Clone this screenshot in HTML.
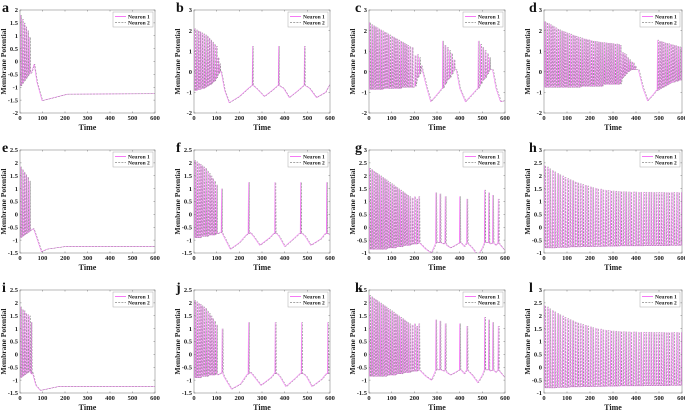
<!DOCTYPE html>
<html><head><meta charset="utf-8"><style>
html,body{margin:0;padding:0;background:#fff;}
svg{display:block;font-family:"Liberation Serif",serif;}
</style></head><body>
<svg id="fig" width="685" height="411" viewBox="0 0 685 411" xmlns="http://www.w3.org/2000/svg"></svg>
<script>
// ---- data ----
const xTicks = [0,100,200,300,400,500,600];
const panelLetters = ['a','b','c','d','e','f','g','h','i','j','k','l'];
const yRanges = [[-2,2,0.5],[-2,3,1],[-2,3,1],[-2,3,1],[-1.5,2.5,0.5],[-1.5,2.5,0.5],[-1,3,0.5],[-1,3,0.5],[-1.5,2.5,0.5],[-1.5,2.5,0.5],[-1.5,2.5,0.5],[-1,3,0.5]];

const aSpikeT=[3,11,19,27,35,43], aSpikeP=[1.8,1.65,1.5,1.35,1.2,0.95], aSpikeL=[-0.95,-0.85,-0.75,-0.65,-0.55,-0.45];
const aSlowT=[50,63,75,98,130,210,600], aSlowV=[-0.45,-0.1,-0.8,-1.52,-1.45,-1.27,-1.25];

const bSpikeT=[3,11,19,27,35,43,51,59,67,75,83,91,99,107,114,258,373,487];
const bSpikeP=[2.1,2.05,2.0,1.95,1.9,1.85,1.8,1.75,1.65,1.55,1.45,1.35,1.25,0.7,0.4,1.25,1.25,1.25];
const bSpikeL=[-0.9,-0.9,-0.85,-0.85,-0.8,-0.8,-0.75,-0.7,-0.65,-0.6,-0.5,-0.45,-0.3,-0.1,0.0,-0.65,-0.65,-0.65];
const bSlowT=[120,135,155,200,240,265,280,310,345,380,395,420,460,495,510,540,580,600];
const bSlowV=[0.0,-0.9,-1.5,-1.2,-0.8,-0.7,-0.85,-1.2,-0.9,-0.7,-0.8,-1.25,-0.9,-0.7,-0.8,-1.25,-1.0,-0.6];

const cSpikeT=[3,11,19,27,35,43,51,59,67,75,83,91,99,107,115,123,131,139,147,155,163,171,180,190,203,213,223,325,335,345,355,365,375,482,492,502,512,522,532];
const cSpikeP=[2.4,2.3,2.25,2.2,2.15,2.1,2.05,2.0,1.95,1.9,1.85,1.8,1.75,1.7,1.65,1.6,1.55,1.5,1.45,1.4,1.35,1.3,1.25,1.2,0.8,0.85,0.7,1.5,1.3,1.2,1.05,0.9,0.6,1.5,1.35,1.2,1.05,0.9,0.7];
const cSpikeL=[-0.85,-0.85,-0.85,-0.85,-0.85,-0.85,-0.85,-0.85,-0.8,-0.8,-0.8,-0.8,-0.8,-0.8,-0.8,-0.8,-0.8,-0.8,-0.75,-0.75,-0.75,-0.75,-0.75,-0.75,-0.7,-0.3,-0.1,-0.8,-0.6,-0.4,-0.3,-0.1,0.1,-0.8,-0.6,-0.4,-0.3,-0.1,0.1];
const cSlowT=[196,230,255,272,300,318,385,400,425,455,475,545,560,580,600];
const cSlowV=[-0.75,0.3,-0.8,-1.45,-1.1,-0.85,0.1,-0.8,-1.45,-1.1,-0.85,0.1,-0.8,-1.45,-1.4];

const dSpikeT=[3,11,19,27,35,43,51,59,67,75,83,91,99,107,115,123,131,139,147,155,163,171,179,187,195,203,211,219,227,235,243,251,259,267,275,283,291,299,307,315,323,331,340,348,356,364,372,380,388,396,493,501,509,517,525,533,541,549,557,565,573,581,589,597];
const dSpikeP=[2.45,2.4,2.35,2.3,2.25,2.2,2.15,2.1,2.05,2.0,1.97,1.94,1.9,1.87,1.84,1.8,1.77,1.74,1.7,1.68,1.65,1.62,1.6,1.58,1.56,1.54,1.52,1.5,1.48,1.46,1.45,1.44,1.43,1.42,1.41,1.4,1.39,1.38,1.37,1.36,1.35,1.3,0.95,0.9,0.85,0.7,0.6,0.5,0.45,0.3,1.55,1.5,1.48,1.45,1.42,1.4,1.38,1.35,1.32,1.3,1.28,1.25,1.22,1.2];
const dSpikeL=[-0.75,-0.75,-0.75,-0.75,-0.75,-0.75,-0.75,-0.75,-0.75,-0.75,-0.75,-0.75,-0.75,-0.75,-0.75,-0.75,-0.75,-0.75,-0.75,-0.75,-0.7,-0.7,-0.7,-0.7,-0.7,-0.7,-0.7,-0.7,-0.7,-0.7,-0.7,-0.7,-0.6,-0.6,-0.6,-0.6,-0.6,-0.6,-0.6,-0.6,-0.6,-0.6,-0.3,-0.2,-0.1,0.0,0.05,0.1,0.1,0.1,-0.9,-0.85,-0.8,-0.75,-0.7,-0.65,-0.6,-0.55,-0.5,-0.5,-0.45,-0.45,-0.4,-0.4];
const dSlowT=[410,430,450,475,488], dSlowV=[0.1,-0.8,-1.4,-1.1,-0.9];

const eSpikeT=[3,11,19,27,35,43], eSpikeP=[1.85,1.75,1.65,1.55,1.45,1.3], eSpikeL=[-0.9,-0.85,-0.8,-0.75,-0.7,-0.65];
const eSlowT=[50,60,70,95,120,200,600], eSlowV=[-0.6,-0.55,-0.8,-1.45,-1.35,-1.25,-1.25];

const fSpikeT=[3,11,19,27,35,43,51,59,67,75,83,91,99,121,240,357,470,585];
const fSpikeP=[2.1,2.05,2.0,1.95,1.9,1.85,1.8,1.7,1.6,1.5,1.4,1.3,1.15,1.0,1.25,1.25,1.25,1.25];
const fSpikeL=[-0.9,-0.9,-0.9,-0.9,-0.85,-0.85,-0.85,-0.85,-0.8,-0.8,-0.8,-0.8,-0.75,-0.7,-0.75,-0.75,-0.75,-0.75];
const fSlowT=[105,115,128,160,200,230,248,262,290,335,350,365,375,400,445,463,478,490,515,560,578,592,600];
const fSlowV=[-0.75,-0.7,-0.8,-1.35,-1.1,-0.8,-0.7,-0.85,-1.2,-0.9,-0.75,-0.75,-0.85,-1.25,-0.9,-0.75,-0.75,-0.85,-1.2,-0.95,-0.75,-0.75,-0.8];

const gSpikeT=[3,11,19,27,35,43,51,59,67,75,83,91,99,107,115,123,131,139,147,155,163,171,180,190,200,210,220,295,313,336,400,432,510,528,546,570];
const gSpikeP=[2.3,2.25,2.2,2.15,2.1,2.05,2.0,1.95,1.9,1.85,1.8,1.75,1.7,1.65,1.6,1.55,1.5,1.45,1.4,1.35,1.3,1.25,1.2,1.15,1.2,1.1,1.2,1.35,1.3,1.2,1.2,1.1,1.45,1.35,1.25,1.1];
const gSpikeL=[-0.85,-0.85,-0.85,-0.85,-0.85,-0.85,-0.85,-0.85,-0.85,-0.85,-0.8,-0.8,-0.8,-0.8,-0.8,-0.75,-0.75,-0.75,-0.75,-0.7,-0.7,-0.7,-0.7,-0.65,-0.65,-0.65,-0.6,-0.6,-0.6,-0.6,-0.6,-0.6,-0.6,-0.6,-0.6,-0.6];
const gSlowT=[228,250,275,290,300,318,330,342,360,390,405,420,438,455,480,500,535,560,575,600];
const gSlowV=[-0.65,-0.85,-1.0,-0.7,-0.6,-0.6,-0.65,-0.7,-0.8,-0.65,-0.6,-0.75,-0.65,-0.8,-1.1,-0.8,-0.65,-0.7,-0.65,-0.9];

const hSpikeT=[3,14,25,36,47,58,69,80,91,102,113,124,135,146,157,168,179,190,201,212,223,234,245,256,267,278,289,300,311,322,333,344,355,366,377,388,399,410,421,432,443,454,465,476,487,498,509,520,531,542,553,564,575,586,597];
const hSpikeP=[2.4,2.35,2.28,2.22,2.16,2.1,2.05,2.0,1.95,1.9,1.86,1.82,1.78,1.74,1.7,1.67,1.64,1.61,1.58,1.55,1.53,1.51,1.49,1.47,1.45,1.44,1.43,1.42,1.41,1.4,1.4,1.39,1.39,1.38,1.38,1.38,1.38,1.37,1.37,1.37,1.37,1.37,1.37,1.36,1.36,1.36,1.36,1.36,1.36,1.36,1.36,1.36,1.36,1.36,1.36];
const hSpikeL=[-0.8,-0.8,-0.8,-0.8,-0.8,-0.78,-0.78,-0.78,-0.78,-0.78,-0.76,-0.76,-0.76,-0.76,-0.76,-0.75,-0.75,-0.75,-0.75,-0.75,-0.74,-0.74,-0.74,-0.74,-0.74,-0.73,-0.73,-0.73,-0.73,-0.73,-0.72,-0.72,-0.72,-0.72,-0.72,-0.72,-0.72,-0.72,-0.72,-0.72,-0.71,-0.71,-0.71,-0.71,-0.71,-0.71,-0.71,-0.71,-0.71,-0.71,-0.7,-0.7,-0.7,-0.7,-0.7];
const hSlowT=[], hSlowV=[];

const iSpikeT=[3,11,19,27,35,43,50], iSpikeP=[1.85,1.75,1.7,1.6,1.55,1.5,1.25], iSpikeL=[-0.9,-0.85,-0.8,-0.75,-0.7,-0.65,-0.75];
const iSlowT=[55,70,90,170,600], iSlowV=[-0.7,-1.2,-1.4,-1.25,-1.25];

const jSpikeT=[3,11,19,27,35,43,51,59,67,75,83,91,99,124,240,358,474,590];
const jSpikeP=[2.1,2.05,2.0,1.95,1.9,1.85,1.8,1.7,1.6,1.5,1.4,1.3,1.15,1.0,1.25,1.25,1.25,1.25];
const jSpikeL=fSpikeL;
const jSlowT=[105,115,131,165,205,232,250,264,295,340,353,367,378,405,450,467,482,495,520,565,583,597];
const jSlowV=[-0.8,-0.75,-0.85,-1.35,-1.15,-0.8,-0.7,-0.85,-1.2,-0.9,-0.75,-0.75,-0.85,-1.25,-0.9,-0.75,-0.75,-0.85,-1.25,-0.95,-0.75,-0.75];

// neuron 2 time lag
const lagN2 = [3,3,4,4,3,4,4,4,3,4,4,4];

const panels = [
 [aSpikeT,aSpikeP,aSpikeL,aSlowT,aSlowV],[bSpikeT,bSpikeP,bSpikeL,bSlowT,bSlowV],
 [cSpikeT,cSpikeP,cSpikeL,cSlowT,cSlowV],[dSpikeT,dSpikeP,dSpikeL,dSlowT,dSlowV],
 [eSpikeT,eSpikeP,eSpikeL,eSlowT,eSlowV],[fSpikeT,fSpikeP,fSpikeL,fSlowT,fSlowV],
 [gSpikeT,gSpikeP,gSpikeL,gSlowT,gSlowV],[hSpikeT,hSpikeP,hSpikeL,hSlowT,hSlowV],
 [iSpikeT,iSpikeP,iSpikeL,iSlowT,iSlowV],[jSpikeT,jSpikeP,jSpikeL,jSlowT,jSlowV],
 [gSpikeT,gSpikeP,gSpikeL,gSlowT,gSlowV],[hSpikeT,hSpikeP,hSpikeL,hSlowT,hSlowV]
];

// ---- layout ----
const cols=[[20,155],[194,330],[369,505],[544,682]];
const rows=[[10,113],[150,253],[290,393]];
const letterX=[2,176,355,529];
const NS='http://www.w3.org/2000/svg';
const svg=document.getElementById('fig');
function mk(tag,attrs,parent){const e=document.createElementNS(NS,tag);for(const k in attrs)e.setAttribute(k,attrs[k]);(parent||svg).appendChild(e);return e;}

function buildSeries(p,lag){
  const pts=[];
  const [sT,sP,sL,wT,wV]=p;
  for(let i=0;i<sT.length;i++){
    pts.push([sT[i]+lag-1.5,sL[i]]);pts.push([sT[i]+lag,sP[i]]);pts.push([sT[i]+lag+1.5,sL[i]]);
  }
  for(let i=0;i<wT.length;i++)pts.push([wT[i]+(wT[i]<600?lag:0),wV[i]]);
  pts.sort((a,b)=>a[0]-b[0]);
  return pts;
}

panels.forEach((p,idx)=>{
  const c=idx%4, r=Math.floor(idx/4);
  const [x0,x1]=cols[c],[y0,y1]=rows[r];
  const [ymin,ymax,ystep]=yRanges[idx];
  const sx=t=>x0+(t/600)*(x1-x0);
  const sy=v=>y1-(v-ymin)/(ymax-ymin)*(y1-y0);
  const g=mk('g',{});
  
  
  const cid='clip'+idx;
  const cp=mk('clipPath',{id:cid},g);mk('rect',{x:x0,y:y0,width:x1-x0,height:y1-y0},cp);
  const plot=mk('g',{'clip-path':'url(#'+cid+')'},g);
  
  
  const s1=buildSeries(p,0);
  const l1=mk('polyline',{points:s1.map(q=>sx(q[0]).toFixed(2)+','+sy(q[1]).toFixed(2)).join(' '),fill:'none',stroke:'#f57af5','stroke-width':0.6},plot);
  
  
  const s2=buildSeries(p,lagN2[idx]);
  const l2=mk('polyline',{points:s2.map(q=>sx(q[0]).toFixed(2)+','+sy(q[1]).toFixed(2)).join(' '),fill:'none',stroke:'#8a8a8a','stroke-width':0.5,'stroke-dasharray':'2,1.2'},plot);
  
  
  const box=mk('rect',{x:x0,y:y0,width:x1-x0,height:y1-y0,fill:'none',stroke:'#9a9a9a','stroke-width':0.7},g);
  
  
  xTicks.forEach(t=>{
    const X=sx(t);
    mk('line',{x1:X,y1:y1,x2:X,y2:y1-1.5,stroke:'#777','stroke-width':0.5},g);
    mk('line',{x1:X,y1:y0,x2:X,y2:y0+1.5,stroke:'#777','stroke-width':0.5},g);
    const tx=mk('text',{x:X,y:y1+7,'font-size':6.5,'font-weight':'bold','text-anchor':'middle',fill:'#222'},g);
    tx.textContent=t;
    
    
  });
  for(let v=ymin;v<=ymax+1e-9;v+=ystep){
    const Y=sy(v);
    mk('line',{x1:x0,y1:Y,x2:x0+1.5,y2:Y,stroke:'#777','stroke-width':0.5},g);
    mk('line',{x1:x1,y1:Y,x2:x1-1.5,y2:Y,stroke:'#777','stroke-width':0.5},g);
    const ty=mk('text',{x:x0-2,y:Y+2.2,'font-size':6.5,'font-weight':'bold','text-anchor':'end',fill:'#222'},g);
    ty.textContent=String(Math.round(v*10)/10);
    
    
  }
  const xt=mk('text',{x:(x0+x1)/2,y:y1+17,'font-size':8,'font-weight':'bold','text-anchor':'middle',fill:'#222'},g);
  xt.textContent='Time';
  
  
  const yx=x0-14,yy=(y0+y1)/2;
  const yt=mk('text',{x:yx,y:yy,'font-size':7.5,'font-weight':'bold','text-anchor':'middle',fill:'#222',transform:'rotate(-90 '+yx+' '+yy+')'},g);
  yt.textContent='Membrane Potential';
  
  
  const lt=mk('text',{x:letterX[c],y:y0+2,'font-size':14,'font-weight':'bold',fill:'#111'},g);
  lt.textContent=panelLetters[idx];
  
  
  const lx=x1-42,ly=y0+2;
  const lg=mk('g',{},g);
  
  
  mk('rect',{x:lx,y:ly,width:40,height:15,fill:'#fff',stroke:'#aaa','stroke-width':0.5},lg);
  mk('line',{x1:lx+2,y1:ly+4.5,x2:lx+13,y2:ly+4.5,stroke:'#f57af5','stroke-width':1},lg);
  mk('line',{x1:lx+2,y1:ly+10.5,x2:lx+13,y2:ly+10.5,stroke:'#8a8a8a','stroke-width':0.8,'stroke-dasharray':'2,1.2'},lg);
  const e1=mk('text',{x:lx+15,y:ly+6.5,'font-size':5.5,'font-weight':'bold',fill:'#222'},lg);
  e1.textContent='Neuron 1';
  
  
  const e2=mk('text',{x:lx+15,y:ly+12.5,'font-size':5.5,'font-weight':'bold',fill:'#222'},lg);
  e2.textContent='Neuron 2';
  
  
});
</script>
</body></html>
